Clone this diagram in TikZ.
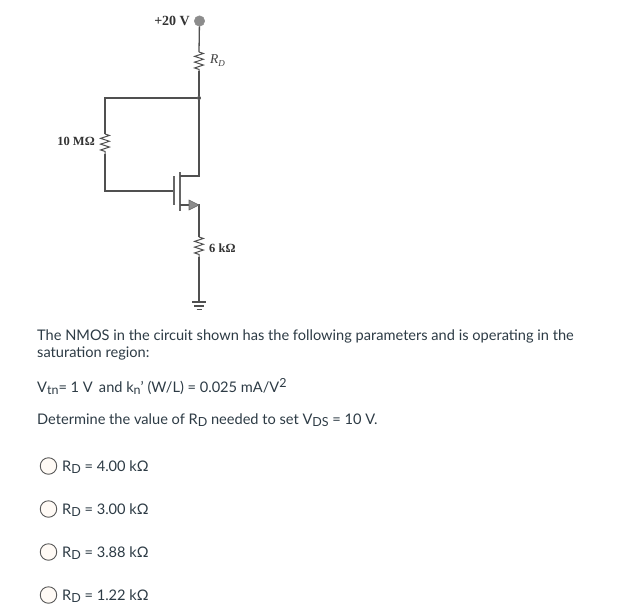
\documentclass[tikz,border=0pt]{standalone}
\usepackage{fontspec}
\setmainfont{Lato}
\newfontfamily\labelfont{Liberation Serif}
\usepackage{xcolor}
\usetikzlibrary{decorations.pathmorphing,positioning}
\definecolor{wirecol}{HTML}{505050}
\definecolor{textcol}{HTML}{2D3B45}
\newcommand{\lowtext}[1]{\raisebox{-0.32ex}{\fontsize{12.5}{12.5}\selectfont #1}}
\newcommand{\hightext}[1]{\raisebox{0.55ex}{\fontsize{12.5}{12.5}\selectfont #1}}
\tikzset{
    wire/.style={draw=wirecol, line width=1.3pt},
    resistor/.style={wire, line width=1pt, decorate, decoration={zigzag, amplitude=4.4pt, segment length=5.8pt}},
    parttext/.style={inner sep=0pt, text=black!80, font=\labelfont\bfseries\fontsize{12.5}{14}\selectfont},
    bodytext/.style={inner sep=0pt, anchor=base west, text=textcol, font=\fontsize{14.6}{17}\selectfont},
    radio/.style={circle, draw=black!65, fill=orange!4, line width=0.9pt, minimum size=16.5pt, inner sep=0pt},
}
\begin{document}
\begin{tikzpicture}[x=1pt,y=-1pt]
    \useasboundingbox[fill=white] (0,0) rectangle (622,614);

    \node[circle, draw=black!45, fill=black!45, minimum size=10.5pt, inner sep=0pt] at (199.5,21) (vdd) {};
    \node[parttext, font=\labelfont\bfseries\fontsize{14}{14}\selectfont, left=4pt of vdd] (vddtext) {+20 V};
    \coordinate (rdtop) at (199,52);
    \coordinate (rdbot) at (199,71);
    \node[circle, fill=wirecol, minimum size=4pt, inner sep=0pt] at (199,98) (drainjoin) {};
    \coordinate (gatecorner) at (105,98);
    \coordinate (rgtop) at (105,134);
    \coordinate (rgbot) at (105,154);
    \coordinate (gatelow) at (105,191);
    \coordinate (gatein) at (174,191);
    \coordinate (chtop) at (180,172);
    \coordinate (chbot) at (180,211);
    \coordinate (draintap) at (180,176);
    \coordinate (draincorner) at (199,176);
    \coordinate (sourcetap) at (180,205);
    \coordinate (sourcecorner) at (199,205);
    \coordinate (rstop) at (199,237);
    \coordinate (rsbot) at (199,257);
    \coordinate (gnd) at (199,302);

    \node[inner sep=0pt, anchor=west, font=\itshape\labelfont\fontsize{13.5}{14}\selectfont, text=black!75] at (210,60.5) (rdtext) {R\raisebox{-0.4ex}{\fontsize{9}{9}\selectfont D}};
    \node[parttext, anchor=east] at (95,141) (rgtext) {10 MΩ};
    \node[parttext, anchor=west] at (209,248) (rstext) {6 kΩ};

    \draw[wire] (vdd)-- (rdtop);
    \draw[resistor] (rdtop)-- (rdbot);
    \draw[wire] (rdbot)-- (drainjoin);
    \draw[wire] (drainjoin)-- (gatecorner)-- (rgtop);
    \draw[resistor] (rgtop)-- (rgbot);
    \draw[wire] (rgbot)-- (gatelow)-- (gatein);
    \draw[wire, line width=1.7pt, draw=black!60] (174,176)-- (174,205);
    \draw[wire, line width=1.7pt, draw=black!60] (chtop)-- (chbot);
    \draw[wire] (draintap)-- (draincorner)-- (drainjoin);
    \draw[wire] (sourcetap)-- (sourcecorner)-- (rstop);
    \draw[draw=black!60, fill=black!45, line width=0.6pt] (189,200)-- (sourcecorner)-- (189,210)-- cycle;
    \draw[resistor] (rstop)-- (rsbot);
    \draw[wire] (rsbot)-- (gnd);
    \draw[wire] (192,302)-- (206,302);
    \draw[wire] (194,306)-- (204,306);
    \draw[wire] (196.5,309.5)-- (201.5,309.5);

    \node[bodytext] at (37,340) (line1) {The NMOS in the circuit shown has the following parameters and is operating in the};
    \node[bodytext] at (37,357) (line2) {saturation region:};
    \node[bodytext] at (37,392) (line3) {V\lowtext{tn}= 1 V\, and k\lowtext{n}’ (W/L) = 0.025 mA/V\hightext{2}};
    \node[bodytext] at (37,424) (line4) {Determine the value of R\lowtext{D} needed to set V\lowtext{DS} = 10 V.};

    \node[radio] at (48.5,466) (opta) {};
    \node[radio] at (48.5,509) (optb) {};
    \node[radio] at (48.5,552) (optc) {};
    \node[radio] at (48.5,595) (optd) {};
    \node[bodytext] at (62,471) (texta) {R\lowtext{D} = 4.00 kΩ};
    \node[bodytext] at (62,514) (textb) {R\lowtext{D} = 3.00 kΩ};
    \node[bodytext] at (62,557) (textc) {R\lowtext{D} = 3.88 kΩ};
    \node[bodytext] at (62,600) (textd) {R\lowtext{D} = 1.22 kΩ};
\end{tikzpicture}
\end{document}
